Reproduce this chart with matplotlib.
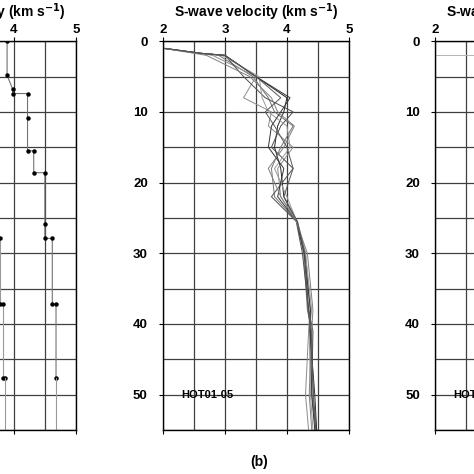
import matplotlib
matplotlib.use('Agg')
import matplotlib.pyplot as plt

plt.rcParams['font.family'] = ['Liberation Sans', 'DejaVu Sans']
plt.rcParams['font.weight'] = 'bold'

# (a) step model, dark series
step_v = [3.89, 3.89, 3.98, 3.98, 4.22, 4.22, 4.22, 4.32, 4.32, 4.50, 4.50, 4.50, 4.62, 4.62, 4.68, 4.68]
step_d = [0.0, 4.8, 6.8, 7.4, 7.4, 10.9, 15.5, 15.5, 18.6, 18.6, 25.9, 27.9, 27.9, 37.2, 37.2, 47.7]
# (a) second series near left edge
step2_v = [3.40, 3.78, 3.78, 3.82, 3.82, 3.85]
step2_d = [27.9, 27.9, 37.2, 37.2, 47.7, 47.7]

# (b) ensemble of models
ens_d = [1.0, 1.7, 2.0, 5.0, 8.0, 10.0, 12.0, 15.0, 18.0, 22.0, 25.5, 30.0, 38.0, 41.0, 50.0, 55.0]
ens_v = [
    [2.00, 2.60, 3.00, 3.50, 4.00, 3.95, 3.85, 3.80, 3.90, 3.95, 4.16, 4.28, 4.35, 4.38, 4.40, 4.45],
    [2.00, 2.55, 2.90, 3.45, 3.70, 3.80, 4.10, 3.90, 3.75, 3.80, 4.16, 4.27, 4.33, 4.40, 4.42, 4.48],
    [2.05, 2.60, 2.80, 3.50, 3.30, 3.75, 3.70, 4.10, 3.85, 3.90, 4.17, 4.30, 4.37, 4.35, 4.30, 4.35],
    [2.00, 2.62, 3.00, 3.30, 3.65, 4.10, 3.90, 3.75, 4.10, 3.75, 4.15, 4.25, 4.35, 4.42, 4.40, 4.47],
    [2.00, 2.58, 2.95, 3.55, 3.60, 3.70, 4.00, 4.05, 3.80, 4.00, 4.16, 4.30, 4.40, 4.36, 4.38, 4.42],
    [2.02, 2.60, 3.00, 3.50, 4.05, 3.90, 3.75, 3.70, 3.95, 3.85, 4.16, 4.28, 4.38, 4.37, 4.45, 4.48],
    [2.00, 2.50, 2.70, 3.40, 3.75, 3.85, 4.12, 3.95, 3.70, 3.90, 4.15, 4.33, 4.42, 4.40, 4.36, 4.40],
    [2.00, 2.60, 3.00, 3.50, 3.90, 3.65, 3.80, 4.00, 4.10, 3.95, 4.17, 4.29, 4.34, 4.39, 4.43, 4.46],
]
ens_grey = ['0.15', '0.45', '0.55', '0.3', '0.6', '0.2', '0.5', '0.35']

# (c) barely visible line
right_v = [2.0, 3.0]
right_d = [1.9, 1.9]

x_ticks = [2, 3, 4, 5]
y_ticks = [0, 10, 20, 30, 40, 50]
title = 'S-wave velocity (km s$^{\\mathbf{-1}}$)'

fig = plt.figure(figsize=(4.74, 4.74), dpi=100)
lefts = [-0.232, 0.344, 0.918]
axes = []
for left in lefts:
    ax = fig.add_axes([left, 0.093, 0.392, 0.82])
    ax.set_xlim(2, 5)
    ax.set_ylim(55, 0)
    ax.set_xticks(x_ticks)
    ax.set_xticks([2.5, 3.5, 4.5], minor=True)
    ax.set_yticks(y_ticks)
    ax.set_yticks([5, 15, 25, 35, 45, 55], minor=True)
    ax.grid(True, which='both', color='0.25', linewidth=0.9)
    ax.tick_params(axis='x', which='major', top=True, labeltop=True, bottom=True,
                   labelbottom=False, direction='out', length=3, labelsize=9.5, pad=1)
    ax.tick_params(axis='y', which='major', left=True, direction='out', length=3,
                   labelsize=9.5, pad=8)
    ax.tick_params(which='minor', length=0)
    for s in ax.spines.values():
        s.set_linewidth(1.0)
    ax.set_title(title, fontsize=10, fontweight='bold', pad=5)
    axes.append(ax)

ax_a, ax_b, ax_c = axes

ax_a.plot(step2_v, step2_d, color='0.6', linewidth=0.8, marker='o', markersize=2.2,
          markerfacecolor='black', markeredgecolor='black')
ax_a.plot([3.85, 3.85], [47.7, 55], color='0.6', linewidth=0.8)
ax_a.plot(step_v, step_d, color='0.45', linewidth=0.8, marker='o', markersize=2.2,
          markerfacecolor='black', markeredgecolor='black')
ax_a.plot([4.68, 4.68], [47.7, 55], color='0.6', linewidth=0.8)

for v, g in zip(ens_v, ens_grey):
    ax_b.plot(v, ens_d, color=g, linewidth=0.7)
ax_b.text(2.3, 50, 'HOT01-05', fontsize=8, fontweight='bold', va='center')

ax_c.plot(right_v, right_d, color='0.7', linewidth=0.7)
ax_c.text(2.3, 50, 'HOT01-06', fontsize=8, fontweight='bold', va='center')

fig.text(0.546, 0.017, '(b)', ha='center', fontsize=10, fontweight='bold')

fig.savefig('out.png', dpi=100)
